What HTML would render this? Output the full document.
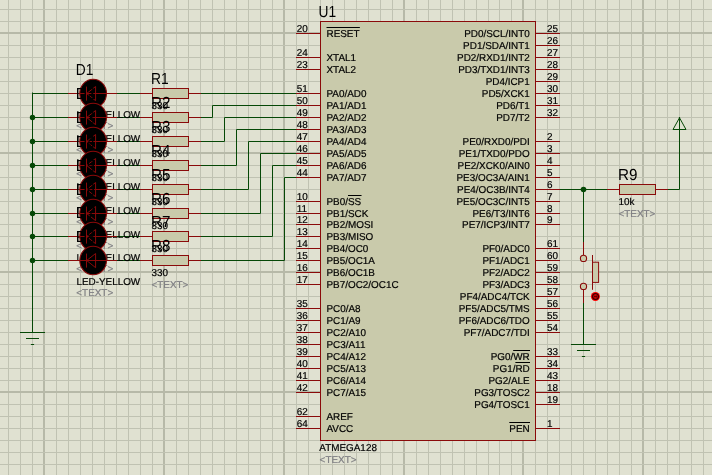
<!DOCTYPE html>
<html lang="en">
<head>
<meta charset="utf-8">
<title>ATMEGA128 LED schematic</title>
<style>
html,body{margin:0;padding:0;background:#e0e1d1;}
body{width:712px;height:475px;overflow:hidden;}
svg{display:block;will-change:transform;text-rendering:geometricPrecision;font-family:"Liberation Sans",Arial,Helvetica,sans-serif;}
</style>
</head>
<body>
<svg width="712" height="475" viewBox="0 0 712 475">
<rect x="0" y="0" width="712" height="475" fill="#e0e1d1"/>
<line x1="8.5" y1="0" x2="8.5" y2="475" stroke="#c0c2b2" stroke-width="1" stroke-linecap="square"/>
<line x1="20.5" y1="0" x2="20.5" y2="475" stroke="#c0c2b2" stroke-width="1" stroke-linecap="square"/>
<line x1="32.5" y1="0" x2="32.5" y2="475" stroke="#c0c2b2" stroke-width="1" stroke-linecap="square"/>
<line x1="44" y1="0" x2="44" y2="475" stroke="#b7b9a8" stroke-width="2" stroke-linecap="square"/>
<line x1="56.5" y1="0" x2="56.5" y2="475" stroke="#c0c2b2" stroke-width="1" stroke-linecap="square"/>
<line x1="68.5" y1="0" x2="68.5" y2="475" stroke="#c0c2b2" stroke-width="1" stroke-linecap="square"/>
<line x1="80.5" y1="0" x2="80.5" y2="475" stroke="#c0c2b2" stroke-width="1" stroke-linecap="square"/>
<line x1="92.5" y1="0" x2="92.5" y2="475" stroke="#c0c2b2" stroke-width="1" stroke-linecap="square"/>
<line x1="104.5" y1="0" x2="104.5" y2="475" stroke="#c0c2b2" stroke-width="1" stroke-linecap="square"/>
<line x1="116.5" y1="0" x2="116.5" y2="475" stroke="#c0c2b2" stroke-width="1" stroke-linecap="square"/>
<line x1="128.5" y1="0" x2="128.5" y2="475" stroke="#c0c2b2" stroke-width="1" stroke-linecap="square"/>
<line x1="140.5" y1="0" x2="140.5" y2="475" stroke="#c0c2b2" stroke-width="1" stroke-linecap="square"/>
<line x1="152.5" y1="0" x2="152.5" y2="475" stroke="#c0c2b2" stroke-width="1" stroke-linecap="square"/>
<line x1="164" y1="0" x2="164" y2="475" stroke="#b7b9a8" stroke-width="2" stroke-linecap="square"/>
<line x1="176.5" y1="0" x2="176.5" y2="475" stroke="#c0c2b2" stroke-width="1" stroke-linecap="square"/>
<line x1="188.5" y1="0" x2="188.5" y2="475" stroke="#c0c2b2" stroke-width="1" stroke-linecap="square"/>
<line x1="200.5" y1="0" x2="200.5" y2="475" stroke="#c0c2b2" stroke-width="1" stroke-linecap="square"/>
<line x1="212.5" y1="0" x2="212.5" y2="475" stroke="#c0c2b2" stroke-width="1" stroke-linecap="square"/>
<line x1="224.5" y1="0" x2="224.5" y2="475" stroke="#c0c2b2" stroke-width="1" stroke-linecap="square"/>
<line x1="236.5" y1="0" x2="236.5" y2="475" stroke="#c0c2b2" stroke-width="1" stroke-linecap="square"/>
<line x1="248.5" y1="0" x2="248.5" y2="475" stroke="#c0c2b2" stroke-width="1" stroke-linecap="square"/>
<line x1="260.5" y1="0" x2="260.5" y2="475" stroke="#c0c2b2" stroke-width="1" stroke-linecap="square"/>
<line x1="272.5" y1="0" x2="272.5" y2="475" stroke="#c0c2b2" stroke-width="1" stroke-linecap="square"/>
<line x1="284" y1="0" x2="284" y2="475" stroke="#b7b9a8" stroke-width="2" stroke-linecap="square"/>
<line x1="296.5" y1="0" x2="296.5" y2="475" stroke="#c0c2b2" stroke-width="1" stroke-linecap="square"/>
<line x1="308.5" y1="0" x2="308.5" y2="475" stroke="#c0c2b2" stroke-width="1" stroke-linecap="square"/>
<line x1="320.5" y1="0" x2="320.5" y2="475" stroke="#c0c2b2" stroke-width="1" stroke-linecap="square"/>
<line x1="332.5" y1="0" x2="332.5" y2="475" stroke="#c0c2b2" stroke-width="1" stroke-linecap="square"/>
<line x1="344.5" y1="0" x2="344.5" y2="475" stroke="#c0c2b2" stroke-width="1" stroke-linecap="square"/>
<line x1="356.5" y1="0" x2="356.5" y2="475" stroke="#c0c2b2" stroke-width="1" stroke-linecap="square"/>
<line x1="368.5" y1="0" x2="368.5" y2="475" stroke="#c0c2b2" stroke-width="1" stroke-linecap="square"/>
<line x1="380.5" y1="0" x2="380.5" y2="475" stroke="#c0c2b2" stroke-width="1" stroke-linecap="square"/>
<line x1="392.5" y1="0" x2="392.5" y2="475" stroke="#c0c2b2" stroke-width="1" stroke-linecap="square"/>
<line x1="404" y1="0" x2="404" y2="475" stroke="#b7b9a8" stroke-width="2" stroke-linecap="square"/>
<line x1="416.5" y1="0" x2="416.5" y2="475" stroke="#c0c2b2" stroke-width="1" stroke-linecap="square"/>
<line x1="428.5" y1="0" x2="428.5" y2="475" stroke="#c0c2b2" stroke-width="1" stroke-linecap="square"/>
<line x1="440.5" y1="0" x2="440.5" y2="475" stroke="#c0c2b2" stroke-width="1" stroke-linecap="square"/>
<line x1="452.5" y1="0" x2="452.5" y2="475" stroke="#c0c2b2" stroke-width="1" stroke-linecap="square"/>
<line x1="464.5" y1="0" x2="464.5" y2="475" stroke="#c0c2b2" stroke-width="1" stroke-linecap="square"/>
<line x1="476.5" y1="0" x2="476.5" y2="475" stroke="#c0c2b2" stroke-width="1" stroke-linecap="square"/>
<line x1="488.5" y1="0" x2="488.5" y2="475" stroke="#c0c2b2" stroke-width="1" stroke-linecap="square"/>
<line x1="499.5" y1="0" x2="499.5" y2="475" stroke="#c0c2b2" stroke-width="1" stroke-linecap="square"/>
<line x1="511.5" y1="0" x2="511.5" y2="475" stroke="#c0c2b2" stroke-width="1" stroke-linecap="square"/>
<line x1="523" y1="0" x2="523" y2="475" stroke="#b7b9a8" stroke-width="2" stroke-linecap="square"/>
<line x1="535.5" y1="0" x2="535.5" y2="475" stroke="#c0c2b2" stroke-width="1" stroke-linecap="square"/>
<line x1="547.5" y1="0" x2="547.5" y2="475" stroke="#c0c2b2" stroke-width="1" stroke-linecap="square"/>
<line x1="559.5" y1="0" x2="559.5" y2="475" stroke="#c0c2b2" stroke-width="1" stroke-linecap="square"/>
<line x1="571.5" y1="0" x2="571.5" y2="475" stroke="#c0c2b2" stroke-width="1" stroke-linecap="square"/>
<line x1="583.5" y1="0" x2="583.5" y2="475" stroke="#c0c2b2" stroke-width="1" stroke-linecap="square"/>
<line x1="595.5" y1="0" x2="595.5" y2="475" stroke="#c0c2b2" stroke-width="1" stroke-linecap="square"/>
<line x1="607.5" y1="0" x2="607.5" y2="475" stroke="#c0c2b2" stroke-width="1" stroke-linecap="square"/>
<line x1="619.5" y1="0" x2="619.5" y2="475" stroke="#c0c2b2" stroke-width="1" stroke-linecap="square"/>
<line x1="631.5" y1="0" x2="631.5" y2="475" stroke="#c0c2b2" stroke-width="1" stroke-linecap="square"/>
<line x1="643" y1="0" x2="643" y2="475" stroke="#b7b9a8" stroke-width="2" stroke-linecap="square"/>
<line x1="655.5" y1="0" x2="655.5" y2="475" stroke="#c0c2b2" stroke-width="1" stroke-linecap="square"/>
<line x1="667.5" y1="0" x2="667.5" y2="475" stroke="#c0c2b2" stroke-width="1" stroke-linecap="square"/>
<line x1="679.5" y1="0" x2="679.5" y2="475" stroke="#c0c2b2" stroke-width="1" stroke-linecap="square"/>
<line x1="691.5" y1="0" x2="691.5" y2="475" stroke="#c0c2b2" stroke-width="1" stroke-linecap="square"/>
<line x1="703.5" y1="0" x2="703.5" y2="475" stroke="#c0c2b2" stroke-width="1" stroke-linecap="square"/>
<line x1="0" y1="9.5" x2="712" y2="9.5" stroke="#c0c2b2" stroke-width="1" stroke-linecap="square"/>
<line x1="0" y1="21.5" x2="712" y2="21.5" stroke="#c0c2b2" stroke-width="1" stroke-linecap="square"/>
<line x1="0" y1="33" x2="712" y2="33" stroke="#b7b9a8" stroke-width="2" stroke-linecap="square"/>
<line x1="0" y1="45.5" x2="712" y2="45.5" stroke="#c0c2b2" stroke-width="1" stroke-linecap="square"/>
<line x1="0" y1="57.5" x2="712" y2="57.5" stroke="#c0c2b2" stroke-width="1" stroke-linecap="square"/>
<line x1="0" y1="69.5" x2="712" y2="69.5" stroke="#c0c2b2" stroke-width="1" stroke-linecap="square"/>
<line x1="0" y1="81.5" x2="712" y2="81.5" stroke="#c0c2b2" stroke-width="1" stroke-linecap="square"/>
<line x1="0" y1="93.5" x2="712" y2="93.5" stroke="#c0c2b2" stroke-width="1" stroke-linecap="square"/>
<line x1="0" y1="105.5" x2="712" y2="105.5" stroke="#c0c2b2" stroke-width="1" stroke-linecap="square"/>
<line x1="0" y1="117.5" x2="712" y2="117.5" stroke="#c0c2b2" stroke-width="1" stroke-linecap="square"/>
<line x1="0" y1="129.5" x2="712" y2="129.5" stroke="#c0c2b2" stroke-width="1" stroke-linecap="square"/>
<line x1="0" y1="141.5" x2="712" y2="141.5" stroke="#c0c2b2" stroke-width="1" stroke-linecap="square"/>
<line x1="0" y1="153" x2="712" y2="153" stroke="#b7b9a8" stroke-width="2" stroke-linecap="square"/>
<line x1="0" y1="165.5" x2="712" y2="165.5" stroke="#c0c2b2" stroke-width="1" stroke-linecap="square"/>
<line x1="0" y1="177.5" x2="712" y2="177.5" stroke="#c0c2b2" stroke-width="1" stroke-linecap="square"/>
<line x1="0" y1="189.5" x2="712" y2="189.5" stroke="#c0c2b2" stroke-width="1" stroke-linecap="square"/>
<line x1="0" y1="201.5" x2="712" y2="201.5" stroke="#c0c2b2" stroke-width="1" stroke-linecap="square"/>
<line x1="0" y1="213.5" x2="712" y2="213.5" stroke="#c0c2b2" stroke-width="1" stroke-linecap="square"/>
<line x1="0" y1="224.5" x2="712" y2="224.5" stroke="#c0c2b2" stroke-width="1" stroke-linecap="square"/>
<line x1="0" y1="236.5" x2="712" y2="236.5" stroke="#c0c2b2" stroke-width="1" stroke-linecap="square"/>
<line x1="0" y1="248.5" x2="712" y2="248.5" stroke="#c0c2b2" stroke-width="1" stroke-linecap="square"/>
<line x1="0" y1="260.5" x2="712" y2="260.5" stroke="#c0c2b2" stroke-width="1" stroke-linecap="square"/>
<line x1="0" y1="272" x2="712" y2="272" stroke="#b7b9a8" stroke-width="2" stroke-linecap="square"/>
<line x1="0" y1="284.5" x2="712" y2="284.5" stroke="#c0c2b2" stroke-width="1" stroke-linecap="square"/>
<line x1="0" y1="296.5" x2="712" y2="296.5" stroke="#c0c2b2" stroke-width="1" stroke-linecap="square"/>
<line x1="0" y1="308.5" x2="712" y2="308.5" stroke="#c0c2b2" stroke-width="1" stroke-linecap="square"/>
<line x1="0" y1="320.5" x2="712" y2="320.5" stroke="#c0c2b2" stroke-width="1" stroke-linecap="square"/>
<line x1="0" y1="332.5" x2="712" y2="332.5" stroke="#c0c2b2" stroke-width="1" stroke-linecap="square"/>
<line x1="0" y1="344.5" x2="712" y2="344.5" stroke="#c0c2b2" stroke-width="1" stroke-linecap="square"/>
<line x1="0" y1="356.5" x2="712" y2="356.5" stroke="#c0c2b2" stroke-width="1" stroke-linecap="square"/>
<line x1="0" y1="368.5" x2="712" y2="368.5" stroke="#c0c2b2" stroke-width="1" stroke-linecap="square"/>
<line x1="0" y1="380.5" x2="712" y2="380.5" stroke="#c0c2b2" stroke-width="1" stroke-linecap="square"/>
<line x1="0" y1="392" x2="712" y2="392" stroke="#b7b9a8" stroke-width="2" stroke-linecap="square"/>
<line x1="0" y1="404.5" x2="712" y2="404.5" stroke="#c0c2b2" stroke-width="1" stroke-linecap="square"/>
<line x1="0" y1="416.5" x2="712" y2="416.5" stroke="#c0c2b2" stroke-width="1" stroke-linecap="square"/>
<line x1="0" y1="428.5" x2="712" y2="428.5" stroke="#c0c2b2" stroke-width="1" stroke-linecap="square"/>
<line x1="0" y1="440.5" x2="712" y2="440.5" stroke="#c0c2b2" stroke-width="1" stroke-linecap="square"/>
<line x1="0" y1="452.5" x2="712" y2="452.5" stroke="#c0c2b2" stroke-width="1" stroke-linecap="square"/>
<line x1="0" y1="464.5" x2="712" y2="464.5" stroke="#c0c2b2" stroke-width="1" stroke-linecap="square"/>
<line x1="32.5" y1="93" x2="32.5" y2="332.5" stroke="#064806" stroke-width="1" stroke-linecap="square"/>
<line x1="32.5" y1="93.5" x2="68.5" y2="93.5" stroke="#064806" stroke-width="1" stroke-linecap="square"/>
<line x1="32.5" y1="117.5" x2="68.5" y2="117.5" stroke="#064806" stroke-width="1" stroke-linecap="square"/>
<circle cx="32.5" cy="117.5" r="2.7" fill="#064806"/>
<line x1="32.5" y1="141.5" x2="68.5" y2="141.5" stroke="#064806" stroke-width="1" stroke-linecap="square"/>
<circle cx="32.5" cy="141.5" r="2.7" fill="#064806"/>
<line x1="32.5" y1="165.5" x2="68.5" y2="165.5" stroke="#064806" stroke-width="1" stroke-linecap="square"/>
<circle cx="32.5" cy="165.5" r="2.7" fill="#064806"/>
<line x1="32.5" y1="189.5" x2="68.5" y2="189.5" stroke="#064806" stroke-width="1" stroke-linecap="square"/>
<circle cx="32.5" cy="189.5" r="2.7" fill="#064806"/>
<line x1="32.5" y1="213.5" x2="68.5" y2="213.5" stroke="#064806" stroke-width="1" stroke-linecap="square"/>
<circle cx="32.5" cy="213.5" r="2.7" fill="#064806"/>
<line x1="32.5" y1="236.5" x2="68.5" y2="236.5" stroke="#064806" stroke-width="1" stroke-linecap="square"/>
<circle cx="32.5" cy="236.5" r="2.7" fill="#064806"/>
<line x1="32.5" y1="260.5" x2="68.5" y2="260.5" stroke="#064806" stroke-width="1" stroke-linecap="square"/>
<circle cx="32.5" cy="260.5" r="2.7" fill="#064806"/>
<line x1="20.5" y1="332.5" x2="44.5" y2="332.5" stroke="#064806" stroke-width="1" stroke-linecap="square"/>
<line x1="26.5" y1="338.5" x2="38.5" y2="338.5" stroke="#064806" stroke-width="1" stroke-linecap="square"/>
<line x1="31.4" y1="344.5" x2="33.6" y2="344.5" stroke="#064806" stroke-width="1" stroke-linecap="square"/>
<line x1="116.5" y1="93.5" x2="140.5" y2="93.5" stroke="#064806" stroke-width="1" stroke-linecap="square"/>
<line x1="200.5" y1="93.5" x2="296.5" y2="93.5" stroke="#064806" stroke-width="1" stroke-linecap="square"/>
<line x1="116.5" y1="117.5" x2="140.5" y2="117.5" stroke="#064806" stroke-width="1" stroke-linecap="square"/>
<polyline points="200.5,117.5 212.5,117.5 212.5,105.5 296.5,105.5" fill="none" stroke="#064806" stroke-width="1" stroke-linecap="square"/>
<line x1="116.5" y1="141.5" x2="140.5" y2="141.5" stroke="#064806" stroke-width="1" stroke-linecap="square"/>
<polyline points="200.5,141.5 224.5,141.5 224.5,117.5 296.5,117.5" fill="none" stroke="#064806" stroke-width="1" stroke-linecap="square"/>
<line x1="116.5" y1="165.5" x2="140.5" y2="165.5" stroke="#064806" stroke-width="1" stroke-linecap="square"/>
<polyline points="200.5,165.5 236.5,165.5 236.5,129.5 296.5,129.5" fill="none" stroke="#064806" stroke-width="1" stroke-linecap="square"/>
<line x1="116.5" y1="189.5" x2="140.5" y2="189.5" stroke="#064806" stroke-width="1" stroke-linecap="square"/>
<polyline points="200.5,189.5 248.5,189.5 248.5,141.5 296.5,141.5" fill="none" stroke="#064806" stroke-width="1" stroke-linecap="square"/>
<line x1="116.5" y1="213.5" x2="140.5" y2="213.5" stroke="#064806" stroke-width="1" stroke-linecap="square"/>
<polyline points="200.5,213.5 260.5,213.5 260.5,153.5 296.5,153.5" fill="none" stroke="#064806" stroke-width="1" stroke-linecap="square"/>
<line x1="116.5" y1="236.5" x2="140.5" y2="236.5" stroke="#064806" stroke-width="1" stroke-linecap="square"/>
<polyline points="200.5,236.5 272.5,236.5 272.5,165.5 296.5,165.5" fill="none" stroke="#064806" stroke-width="1" stroke-linecap="square"/>
<line x1="116.5" y1="260.5" x2="140.5" y2="260.5" stroke="#064806" stroke-width="1" stroke-linecap="square"/>
<polyline points="200.5,260.5 284.5,260.5 284.5,177.5 296.5,177.5" fill="none" stroke="#064806" stroke-width="1" stroke-linecap="square"/>
<line x1="559.5" y1="189.5" x2="607.5" y2="189.5" stroke="#064806" stroke-width="1" stroke-linecap="square"/>
<line x1="583.5" y1="189.5" x2="583.5" y2="241.5" stroke="#064806" stroke-width="1" stroke-linecap="square"/>
<circle cx="583.5" cy="189.5" r="2.8" fill="#064806"/>
<line x1="296.5" y1="33.5" x2="320.5" y2="33.5" stroke="#8a0a0a" stroke-width="1" stroke-linecap="square"/>
<line x1="296.5" y1="57.5" x2="320.5" y2="57.5" stroke="#8a0a0a" stroke-width="1" stroke-linecap="square"/>
<line x1="296.5" y1="69.5" x2="320.5" y2="69.5" stroke="#8a0a0a" stroke-width="1" stroke-linecap="square"/>
<line x1="296.5" y1="93.5" x2="320.5" y2="93.5" stroke="#8a0a0a" stroke-width="1" stroke-linecap="square"/>
<line x1="296.5" y1="105.5" x2="320.5" y2="105.5" stroke="#8a0a0a" stroke-width="1" stroke-linecap="square"/>
<line x1="296.5" y1="117.5" x2="320.5" y2="117.5" stroke="#8a0a0a" stroke-width="1" stroke-linecap="square"/>
<line x1="296.5" y1="129.5" x2="320.5" y2="129.5" stroke="#8a0a0a" stroke-width="1" stroke-linecap="square"/>
<line x1="296.5" y1="141.5" x2="320.5" y2="141.5" stroke="#8a0a0a" stroke-width="1" stroke-linecap="square"/>
<line x1="296.5" y1="153.5" x2="320.5" y2="153.5" stroke="#8a0a0a" stroke-width="1" stroke-linecap="square"/>
<line x1="296.5" y1="165.5" x2="320.5" y2="165.5" stroke="#8a0a0a" stroke-width="1" stroke-linecap="square"/>
<line x1="296.5" y1="177.5" x2="320.5" y2="177.5" stroke="#8a0a0a" stroke-width="1" stroke-linecap="square"/>
<line x1="296.5" y1="201.5" x2="320.5" y2="201.5" stroke="#8a0a0a" stroke-width="1" stroke-linecap="square"/>
<line x1="296.5" y1="213.5" x2="320.5" y2="213.5" stroke="#8a0a0a" stroke-width="1" stroke-linecap="square"/>
<line x1="296.5" y1="224.5" x2="320.5" y2="224.5" stroke="#8a0a0a" stroke-width="1" stroke-linecap="square"/>
<line x1="296.5" y1="236.5" x2="320.5" y2="236.5" stroke="#8a0a0a" stroke-width="1" stroke-linecap="square"/>
<line x1="296.5" y1="248.5" x2="320.5" y2="248.5" stroke="#8a0a0a" stroke-width="1" stroke-linecap="square"/>
<line x1="296.5" y1="260.5" x2="320.5" y2="260.5" stroke="#8a0a0a" stroke-width="1" stroke-linecap="square"/>
<line x1="296.5" y1="272.5" x2="320.5" y2="272.5" stroke="#8a0a0a" stroke-width="1" stroke-linecap="square"/>
<line x1="296.5" y1="284.5" x2="320.5" y2="284.5" stroke="#8a0a0a" stroke-width="1" stroke-linecap="square"/>
<line x1="296.5" y1="308.5" x2="320.5" y2="308.5" stroke="#8a0a0a" stroke-width="1" stroke-linecap="square"/>
<line x1="296.5" y1="320.5" x2="320.5" y2="320.5" stroke="#8a0a0a" stroke-width="1" stroke-linecap="square"/>
<line x1="296.5" y1="332.5" x2="320.5" y2="332.5" stroke="#8a0a0a" stroke-width="1" stroke-linecap="square"/>
<line x1="296.5" y1="344.5" x2="320.5" y2="344.5" stroke="#8a0a0a" stroke-width="1" stroke-linecap="square"/>
<line x1="296.5" y1="356.5" x2="320.5" y2="356.5" stroke="#8a0a0a" stroke-width="1" stroke-linecap="square"/>
<line x1="296.5" y1="368.5" x2="320.5" y2="368.5" stroke="#8a0a0a" stroke-width="1" stroke-linecap="square"/>
<line x1="296.5" y1="380.5" x2="320.5" y2="380.5" stroke="#8a0a0a" stroke-width="1" stroke-linecap="square"/>
<line x1="296.5" y1="392.5" x2="320.5" y2="392.5" stroke="#8a0a0a" stroke-width="1" stroke-linecap="square"/>
<line x1="296.5" y1="416.5" x2="320.5" y2="416.5" stroke="#8a0a0a" stroke-width="1" stroke-linecap="square"/>
<line x1="296.5" y1="428.5" x2="320.5" y2="428.5" stroke="#8a0a0a" stroke-width="1" stroke-linecap="square"/>
<line x1="535.5" y1="33.5" x2="559.5" y2="33.5" stroke="#8a0a0a" stroke-width="1" stroke-linecap="square"/>
<line x1="535.5" y1="45.5" x2="559.5" y2="45.5" stroke="#8a0a0a" stroke-width="1" stroke-linecap="square"/>
<line x1="535.5" y1="57.5" x2="559.5" y2="57.5" stroke="#8a0a0a" stroke-width="1" stroke-linecap="square"/>
<line x1="535.5" y1="69.5" x2="559.5" y2="69.5" stroke="#8a0a0a" stroke-width="1" stroke-linecap="square"/>
<line x1="535.5" y1="81.5" x2="559.5" y2="81.5" stroke="#8a0a0a" stroke-width="1" stroke-linecap="square"/>
<line x1="535.5" y1="93.5" x2="559.5" y2="93.5" stroke="#8a0a0a" stroke-width="1" stroke-linecap="square"/>
<line x1="535.5" y1="105.5" x2="559.5" y2="105.5" stroke="#8a0a0a" stroke-width="1" stroke-linecap="square"/>
<line x1="535.5" y1="117.5" x2="559.5" y2="117.5" stroke="#8a0a0a" stroke-width="1" stroke-linecap="square"/>
<line x1="535.5" y1="141.5" x2="559.5" y2="141.5" stroke="#8a0a0a" stroke-width="1" stroke-linecap="square"/>
<line x1="535.5" y1="153.5" x2="559.5" y2="153.5" stroke="#8a0a0a" stroke-width="1" stroke-linecap="square"/>
<line x1="535.5" y1="165.5" x2="559.5" y2="165.5" stroke="#8a0a0a" stroke-width="1" stroke-linecap="square"/>
<line x1="535.5" y1="177.5" x2="559.5" y2="177.5" stroke="#8a0a0a" stroke-width="1" stroke-linecap="square"/>
<line x1="535.5" y1="189.5" x2="559.5" y2="189.5" stroke="#8a0a0a" stroke-width="1" stroke-linecap="square"/>
<line x1="535.5" y1="201.5" x2="559.5" y2="201.5" stroke="#8a0a0a" stroke-width="1" stroke-linecap="square"/>
<line x1="535.5" y1="213.5" x2="559.5" y2="213.5" stroke="#8a0a0a" stroke-width="1" stroke-linecap="square"/>
<line x1="535.5" y1="224.5" x2="559.5" y2="224.5" stroke="#8a0a0a" stroke-width="1" stroke-linecap="square"/>
<line x1="535.5" y1="248.5" x2="559.5" y2="248.5" stroke="#8a0a0a" stroke-width="1" stroke-linecap="square"/>
<line x1="535.5" y1="260.5" x2="559.5" y2="260.5" stroke="#8a0a0a" stroke-width="1" stroke-linecap="square"/>
<line x1="535.5" y1="272.5" x2="559.5" y2="272.5" stroke="#8a0a0a" stroke-width="1" stroke-linecap="square"/>
<line x1="535.5" y1="284.5" x2="559.5" y2="284.5" stroke="#8a0a0a" stroke-width="1" stroke-linecap="square"/>
<line x1="535.5" y1="296.5" x2="559.5" y2="296.5" stroke="#8a0a0a" stroke-width="1" stroke-linecap="square"/>
<line x1="535.5" y1="308.5" x2="559.5" y2="308.5" stroke="#8a0a0a" stroke-width="1" stroke-linecap="square"/>
<line x1="535.5" y1="320.5" x2="559.5" y2="320.5" stroke="#8a0a0a" stroke-width="1" stroke-linecap="square"/>
<line x1="535.5" y1="332.5" x2="559.5" y2="332.5" stroke="#8a0a0a" stroke-width="1" stroke-linecap="square"/>
<line x1="535.5" y1="356.5" x2="559.5" y2="356.5" stroke="#8a0a0a" stroke-width="1" stroke-linecap="square"/>
<line x1="535.5" y1="368.5" x2="559.5" y2="368.5" stroke="#8a0a0a" stroke-width="1" stroke-linecap="square"/>
<line x1="535.5" y1="380.5" x2="559.5" y2="380.5" stroke="#8a0a0a" stroke-width="1" stroke-linecap="square"/>
<line x1="535.5" y1="392.5" x2="559.5" y2="392.5" stroke="#8a0a0a" stroke-width="1" stroke-linecap="square"/>
<line x1="535.5" y1="404.5" x2="559.5" y2="404.5" stroke="#8a0a0a" stroke-width="1" stroke-linecap="square"/>
<line x1="535.5" y1="428.5" x2="559.5" y2="428.5" stroke="#8a0a0a" stroke-width="1" stroke-linecap="square"/>
<rect x="320.5" y="21.5" width="215" height="419" fill="#c9caab" stroke="#8a0a0a" stroke-width="1"/>
<text transform="translate(296.8 31.6) scale(0.99 1)" font-size="10" fill="#000000" stroke="#000000" stroke-width="0.2">20</text>
<text transform="translate(326.5 37) scale(0.99 1)" font-size="10" fill="#000000" stroke="#000000" stroke-width="0.2">RESET</text>
<line x1="327" y1="27.5" x2="359.37" y2="27.5" stroke="#000000" stroke-width="1" stroke-linecap="square"/>
<text transform="translate(296.8 55.6) scale(0.99 1)" font-size="10" fill="#000000" stroke="#000000" stroke-width="0.2">24</text>
<text transform="translate(326.5 61) scale(0.99 1)" font-size="10" fill="#000000" stroke="#000000" stroke-width="0.2">XTAL1</text>
<text transform="translate(296.8 67.6) scale(0.99 1)" font-size="10" fill="#000000" stroke="#000000" stroke-width="0.2">23</text>
<text transform="translate(326.5 73) scale(0.99 1)" font-size="10" fill="#000000" stroke="#000000" stroke-width="0.2">XTAL2</text>
<text transform="translate(296.8 91.6) scale(0.99 1)" font-size="10" fill="#000000" stroke="#000000" stroke-width="0.2">51</text>
<text transform="translate(326.5 97) scale(0.99 1)" font-size="10" fill="#000000" stroke="#000000" stroke-width="0.2">PA0/AD0</text>
<text transform="translate(296.8 103.6) scale(0.99 1)" font-size="10" fill="#000000" stroke="#000000" stroke-width="0.2">50</text>
<text transform="translate(326.5 109) scale(0.99 1)" font-size="10" fill="#000000" stroke="#000000" stroke-width="0.2">PA1/AD1</text>
<text transform="translate(296.8 115.6) scale(0.99 1)" font-size="10" fill="#000000" stroke="#000000" stroke-width="0.2">49</text>
<text transform="translate(326.5 121) scale(0.99 1)" font-size="10" fill="#000000" stroke="#000000" stroke-width="0.2">PA2/AD2</text>
<text transform="translate(296.8 127.6) scale(0.99 1)" font-size="10" fill="#000000" stroke="#000000" stroke-width="0.2">48</text>
<text transform="translate(326.5 133) scale(0.99 1)" font-size="10" fill="#000000" stroke="#000000" stroke-width="0.2">PA3/AD3</text>
<text transform="translate(296.8 139.6) scale(0.99 1)" font-size="10" fill="#000000" stroke="#000000" stroke-width="0.2">47</text>
<text transform="translate(326.5 145) scale(0.99 1)" font-size="10" fill="#000000" stroke="#000000" stroke-width="0.2">PA4/AD4</text>
<text transform="translate(296.8 151.6) scale(0.99 1)" font-size="10" fill="#000000" stroke="#000000" stroke-width="0.2">46</text>
<text transform="translate(326.5 157) scale(0.99 1)" font-size="10" fill="#000000" stroke="#000000" stroke-width="0.2">PA5/AD5</text>
<text transform="translate(296.8 163.6) scale(0.99 1)" font-size="10" fill="#000000" stroke="#000000" stroke-width="0.2">45</text>
<text transform="translate(326.5 169) scale(0.99 1)" font-size="10" fill="#000000" stroke="#000000" stroke-width="0.2">PA6/AD6</text>
<text transform="translate(296.8 175.6) scale(0.99 1)" font-size="10" fill="#000000" stroke="#000000" stroke-width="0.2">44</text>
<text transform="translate(326.5 181) scale(0.99 1)" font-size="10" fill="#000000" stroke="#000000" stroke-width="0.2">PA7/AD7</text>
<text transform="translate(296.8 199.6) scale(0.99 1)" font-size="10" fill="#000000" stroke="#000000" stroke-width="0.2">10</text>
<text transform="translate(326.5 205) scale(0.99 1)" font-size="10" fill="#000000" stroke="#000000" stroke-width="0.2">PB0/SS</text>
<line x1="348.51" y1="195.5" x2="361.04" y2="195.5" stroke="#000000" stroke-width="1" stroke-linecap="square"/>
<text transform="translate(296.8 211.6) scale(0.99 1)" font-size="10" fill="#000000" stroke="#000000" stroke-width="0.2">11</text>
<text transform="translate(326.5 217) scale(0.99 1)" font-size="10" fill="#000000" stroke="#000000" stroke-width="0.2">PB1/SCK</text>
<text transform="translate(296.8 222.6) scale(0.99 1)" font-size="10" fill="#000000" stroke="#000000" stroke-width="0.2">12</text>
<text transform="translate(326.5 228) scale(0.99 1)" font-size="10" fill="#000000" stroke="#000000" stroke-width="0.2">PB2/MOSI</text>
<text transform="translate(296.8 234.6) scale(0.99 1)" font-size="10" fill="#000000" stroke="#000000" stroke-width="0.2">13</text>
<text transform="translate(326.5 240) scale(0.99 1)" font-size="10" fill="#000000" stroke="#000000" stroke-width="0.2">PB3/MISO</text>
<text transform="translate(296.8 246.6) scale(0.99 1)" font-size="10" fill="#000000" stroke="#000000" stroke-width="0.2">14</text>
<text transform="translate(326.5 252) scale(0.99 1)" font-size="10" fill="#000000" stroke="#000000" stroke-width="0.2">PB4/OC0</text>
<text transform="translate(296.8 258.6) scale(0.99 1)" font-size="10" fill="#000000" stroke="#000000" stroke-width="0.2">15</text>
<text transform="translate(326.5 264) scale(0.99 1)" font-size="10" fill="#000000" stroke="#000000" stroke-width="0.2">PB5/OC1A</text>
<text transform="translate(296.8 270.6) scale(0.99 1)" font-size="10" fill="#000000" stroke="#000000" stroke-width="0.2">16</text>
<text transform="translate(326.5 276) scale(0.99 1)" font-size="10" fill="#000000" stroke="#000000" stroke-width="0.2">PB6/OC1B</text>
<text transform="translate(296.8 282.6) scale(0.99 1)" font-size="10" fill="#000000" stroke="#000000" stroke-width="0.2">17</text>
<text transform="translate(326.5 288) scale(0.99 1)" font-size="10" fill="#000000" stroke="#000000" stroke-width="0.2">PB7/OC2/OC1C</text>
<text transform="translate(296.8 306.6) scale(0.99 1)" font-size="10" fill="#000000" stroke="#000000" stroke-width="0.2">35</text>
<text transform="translate(326.5 312) scale(0.99 1)" font-size="10" fill="#000000" stroke="#000000" stroke-width="0.2">PC0/A8</text>
<text transform="translate(296.8 318.6) scale(0.99 1)" font-size="10" fill="#000000" stroke="#000000" stroke-width="0.2">36</text>
<text transform="translate(326.5 324) scale(0.99 1)" font-size="10" fill="#000000" stroke="#000000" stroke-width="0.2">PC1/A9</text>
<text transform="translate(296.8 330.6) scale(0.99 1)" font-size="10" fill="#000000" stroke="#000000" stroke-width="0.2">37</text>
<text transform="translate(326.5 336) scale(0.99 1)" font-size="10" fill="#000000" stroke="#000000" stroke-width="0.2">PC2/A10</text>
<text transform="translate(296.8 342.6) scale(0.99 1)" font-size="10" fill="#000000" stroke="#000000" stroke-width="0.2">38</text>
<text transform="translate(326.5 348) scale(0.99 1)" font-size="10" fill="#000000" stroke="#000000" stroke-width="0.2">PC3/A11</text>
<text transform="translate(296.8 354.6) scale(0.99 1)" font-size="10" fill="#000000" stroke="#000000" stroke-width="0.2">39</text>
<text transform="translate(326.5 360) scale(0.99 1)" font-size="10" fill="#000000" stroke="#000000" stroke-width="0.2">PC4/A12</text>
<text transform="translate(296.8 366.6) scale(0.99 1)" font-size="10" fill="#000000" stroke="#000000" stroke-width="0.2">40</text>
<text transform="translate(326.5 372) scale(0.99 1)" font-size="10" fill="#000000" stroke="#000000" stroke-width="0.2">PC5/A13</text>
<text transform="translate(296.8 378.6) scale(0.99 1)" font-size="10" fill="#000000" stroke="#000000" stroke-width="0.2">41</text>
<text transform="translate(326.5 384) scale(0.99 1)" font-size="10" fill="#000000" stroke="#000000" stroke-width="0.2">PC6/A14</text>
<text transform="translate(296.8 390.6) scale(0.99 1)" font-size="10" fill="#000000" stroke="#000000" stroke-width="0.2">42</text>
<text transform="translate(326.5 396) scale(0.99 1)" font-size="10" fill="#000000" stroke="#000000" stroke-width="0.2">PC7/A15</text>
<text transform="translate(296.8 414.6) scale(0.99 1)" font-size="10" fill="#000000" stroke="#000000" stroke-width="0.2">62</text>
<text transform="translate(326.5 420) scale(0.99 1)" font-size="10" fill="#000000" stroke="#000000" stroke-width="0.2">AREF</text>
<text transform="translate(296.8 426.6) scale(0.99 1)" font-size="10" fill="#000000" stroke="#000000" stroke-width="0.2">64</text>
<text transform="translate(326.5 432) scale(0.99 1)" font-size="10" fill="#000000" stroke="#000000" stroke-width="0.2">AVCC</text>
<text transform="translate(547 31.6) scale(0.99 1)" font-size="10" fill="#000000" stroke="#000000" stroke-width="0.2">25</text>
<text transform="translate(529.7 37) scale(0.99 1)" font-size="10" fill="#000000" stroke="#000000" stroke-width="0.2" text-anchor="end">PD0/SCL/INT0</text>
<text transform="translate(547 43.6) scale(0.99 1)" font-size="10" fill="#000000" stroke="#000000" stroke-width="0.2">26</text>
<text transform="translate(529.7 49) scale(0.99 1)" font-size="10" fill="#000000" stroke="#000000" stroke-width="0.2" text-anchor="end">PD1/SDA/INT1</text>
<text transform="translate(547 55.6) scale(0.99 1)" font-size="10" fill="#000000" stroke="#000000" stroke-width="0.2">27</text>
<text transform="translate(529.7 61) scale(0.99 1)" font-size="10" fill="#000000" stroke="#000000" stroke-width="0.2" text-anchor="end">PD2/RXD1/INT2</text>
<text transform="translate(547 67.6) scale(0.99 1)" font-size="10" fill="#000000" stroke="#000000" stroke-width="0.2">28</text>
<text transform="translate(529.7 73) scale(0.99 1)" font-size="10" fill="#000000" stroke="#000000" stroke-width="0.2" text-anchor="end">PD3/TXD1/INT3</text>
<text transform="translate(547 79.6) scale(0.99 1)" font-size="10" fill="#000000" stroke="#000000" stroke-width="0.2">29</text>
<text transform="translate(529.7 85) scale(0.99 1)" font-size="10" fill="#000000" stroke="#000000" stroke-width="0.2" text-anchor="end">PD4/ICP1</text>
<text transform="translate(547 91.6) scale(0.99 1)" font-size="10" fill="#000000" stroke="#000000" stroke-width="0.2">30</text>
<text transform="translate(529.7 97) scale(0.99 1)" font-size="10" fill="#000000" stroke="#000000" stroke-width="0.2" text-anchor="end">PD5/XCK1</text>
<text transform="translate(547 103.6) scale(0.99 1)" font-size="10" fill="#000000" stroke="#000000" stroke-width="0.2">31</text>
<text transform="translate(529.7 109) scale(0.99 1)" font-size="10" fill="#000000" stroke="#000000" stroke-width="0.2" text-anchor="end">PD6/T1</text>
<text transform="translate(547 115.6) scale(0.99 1)" font-size="10" fill="#000000" stroke="#000000" stroke-width="0.2">32</text>
<text transform="translate(529.7 121) scale(0.99 1)" font-size="10" fill="#000000" stroke="#000000" stroke-width="0.2" text-anchor="end">PD7/T2</text>
<text transform="translate(547 139.6) scale(0.99 1)" font-size="10" fill="#000000" stroke="#000000" stroke-width="0.2">2</text>
<text transform="translate(529.7 145) scale(0.99 1)" font-size="10" fill="#000000" stroke="#000000" stroke-width="0.2" text-anchor="end">PE0/RXD0/PDI</text>
<text transform="translate(547 151.6) scale(0.99 1)" font-size="10" fill="#000000" stroke="#000000" stroke-width="0.2">3</text>
<text transform="translate(529.7 157) scale(0.99 1)" font-size="10" fill="#000000" stroke="#000000" stroke-width="0.2" text-anchor="end">PE1/TXD0/PDO</text>
<text transform="translate(547 163.6) scale(0.99 1)" font-size="10" fill="#000000" stroke="#000000" stroke-width="0.2">4</text>
<text transform="translate(529.7 169) scale(0.99 1)" font-size="10" fill="#000000" stroke="#000000" stroke-width="0.2" text-anchor="end">PE2/XCK0/AIN0</text>
<text transform="translate(547 175.6) scale(0.99 1)" font-size="10" fill="#000000" stroke="#000000" stroke-width="0.2">5</text>
<text transform="translate(529.7 181) scale(0.99 1)" font-size="10" fill="#000000" stroke="#000000" stroke-width="0.2" text-anchor="end">PE3/OC3A/AIN1</text>
<text transform="translate(547 187.6) scale(0.99 1)" font-size="10" fill="#000000" stroke="#000000" stroke-width="0.2">6</text>
<text transform="translate(529.7 193) scale(0.99 1)" font-size="10" fill="#000000" stroke="#000000" stroke-width="0.2" text-anchor="end">PE4/OC3B/INT4</text>
<text transform="translate(547 199.6) scale(0.99 1)" font-size="10" fill="#000000" stroke="#000000" stroke-width="0.2">7</text>
<text transform="translate(529.7 205) scale(0.99 1)" font-size="10" fill="#000000" stroke="#000000" stroke-width="0.2" text-anchor="end">PE5/OC3C/INT5</text>
<text transform="translate(547 211.6) scale(0.99 1)" font-size="10" fill="#000000" stroke="#000000" stroke-width="0.2">8</text>
<text transform="translate(529.7 217) scale(0.99 1)" font-size="10" fill="#000000" stroke="#000000" stroke-width="0.2" text-anchor="end">PE6/T3/INT6</text>
<text transform="translate(547 222.6) scale(0.99 1)" font-size="10" fill="#000000" stroke="#000000" stroke-width="0.2">9</text>
<text transform="translate(529.7 228) scale(0.99 1)" font-size="10" fill="#000000" stroke="#000000" stroke-width="0.2" text-anchor="end">PE7/ICP3/INT7</text>
<text transform="translate(547 246.6) scale(0.99 1)" font-size="10" fill="#000000" stroke="#000000" stroke-width="0.2">61</text>
<text transform="translate(529.7 252) scale(0.99 1)" font-size="10" fill="#000000" stroke="#000000" stroke-width="0.2" text-anchor="end">PF0/ADC0</text>
<text transform="translate(547 258.6) scale(0.99 1)" font-size="10" fill="#000000" stroke="#000000" stroke-width="0.2">60</text>
<text transform="translate(529.7 264) scale(0.99 1)" font-size="10" fill="#000000" stroke="#000000" stroke-width="0.2" text-anchor="end">PF1/ADC1</text>
<text transform="translate(547 270.6) scale(0.99 1)" font-size="10" fill="#000000" stroke="#000000" stroke-width="0.2">59</text>
<text transform="translate(529.7 276) scale(0.99 1)" font-size="10" fill="#000000" stroke="#000000" stroke-width="0.2" text-anchor="end">PF2/ADC2</text>
<text transform="translate(547 282.6) scale(0.99 1)" font-size="10" fill="#000000" stroke="#000000" stroke-width="0.2">58</text>
<text transform="translate(529.7 288) scale(0.99 1)" font-size="10" fill="#000000" stroke="#000000" stroke-width="0.2" text-anchor="end">PF3/ADC3</text>
<text transform="translate(547 294.6) scale(0.99 1)" font-size="10" fill="#000000" stroke="#000000" stroke-width="0.2">57</text>
<text transform="translate(529.7 300) scale(0.99 1)" font-size="10" fill="#000000" stroke="#000000" stroke-width="0.2" text-anchor="end">PF4/ADC4/TCK</text>
<text transform="translate(547 306.6) scale(0.99 1)" font-size="10" fill="#000000" stroke="#000000" stroke-width="0.2">56</text>
<text transform="translate(529.7 312) scale(0.99 1)" font-size="10" fill="#000000" stroke="#000000" stroke-width="0.2" text-anchor="end">PF5/ADC5/TMS</text>
<text transform="translate(547 318.6) scale(0.99 1)" font-size="10" fill="#000000" stroke="#000000" stroke-width="0.2">55</text>
<text transform="translate(529.7 324) scale(0.99 1)" font-size="10" fill="#000000" stroke="#000000" stroke-width="0.2" text-anchor="end">PF6/ADC6/TDO</text>
<text transform="translate(547 330.6) scale(0.99 1)" font-size="10" fill="#000000" stroke="#000000" stroke-width="0.2">54</text>
<text transform="translate(529.7 336) scale(0.99 1)" font-size="10" fill="#000000" stroke="#000000" stroke-width="0.2" text-anchor="end">PF7/ADC7/TDI</text>
<text transform="translate(547 354.6) scale(0.99 1)" font-size="10" fill="#000000" stroke="#000000" stroke-width="0.2">33</text>
<text transform="translate(529.7 360) scale(0.99 1)" font-size="10" fill="#000000" stroke="#000000" stroke-width="0.2" text-anchor="end">PG0/WR</text>
<line x1="513.67" y1="350.5" x2="529.5" y2="350.5" stroke="#000000" stroke-width="1" stroke-linecap="square"/>
<text transform="translate(547 366.6) scale(0.99 1)" font-size="10" fill="#000000" stroke="#000000" stroke-width="0.2">34</text>
<text transform="translate(529.7 372) scale(0.99 1)" font-size="10" fill="#000000" stroke="#000000" stroke-width="0.2" text-anchor="end">PG1/RD</text>
<line x1="515.87" y1="362.5" x2="529.5" y2="362.5" stroke="#000000" stroke-width="1" stroke-linecap="square"/>
<text transform="translate(547 378.6) scale(0.99 1)" font-size="10" fill="#000000" stroke="#000000" stroke-width="0.2">43</text>
<text transform="translate(529.7 384) scale(0.99 1)" font-size="10" fill="#000000" stroke="#000000" stroke-width="0.2" text-anchor="end">PG2/ALE</text>
<text transform="translate(547 390.6) scale(0.99 1)" font-size="10" fill="#000000" stroke="#000000" stroke-width="0.2">18</text>
<text transform="translate(529.7 396) scale(0.99 1)" font-size="10" fill="#000000" stroke="#000000" stroke-width="0.2" text-anchor="end">PG3/TOSC2</text>
<text transform="translate(547 402.6) scale(0.99 1)" font-size="10" fill="#000000" stroke="#000000" stroke-width="0.2">19</text>
<text transform="translate(529.7 408) scale(0.99 1)" font-size="10" fill="#000000" stroke="#000000" stroke-width="0.2" text-anchor="end">PG4/TOSC1</text>
<text transform="translate(547 426.6) scale(0.99 1)" font-size="10" fill="#000000" stroke="#000000" stroke-width="0.2">1</text>
<text transform="translate(529.7 432) scale(0.99 1)" font-size="10" fill="#000000" stroke="#000000" stroke-width="0.2" text-anchor="end">PEN</text>
<line x1="509.8" y1="422.5" x2="529.5" y2="422.5" stroke="#000000" stroke-width="1" stroke-linecap="square"/>
<text transform="translate(318.6 17) scale(0.86 1)" font-size="16" fill="#000000" stroke="#000000" stroke-width="0">U1</text>
<text transform="translate(319.3 451.2) scale(0.99 1)" font-size="10" fill="#000000" stroke="#000000" stroke-width="0.2">ATMEGA128</text>
<text transform="translate(319.6 462.8) scale(0.99 1)" font-size="10" fill="#7e7e82" stroke="#7e7e82" stroke-width="0.2">&lt;TEXT&gt;</text>
<line x1="68.5" y1="93.5" x2="116.5" y2="93.5" stroke="#8a0a0a" stroke-width="1" stroke-linecap="square"/>
<ellipse cx="93.15" cy="93.5" rx="13.35" ry="14.25" fill="#000000" stroke="#8a0a0a" stroke-width="1.1"/>
<line x1="79.75" y1="93.5" x2="106.55" y2="93.5" stroke="#8a0a0a" stroke-width="1" stroke-linecap="square"/>
<line x1="86.5" y1="87.1" x2="86.5" y2="100.1" stroke="#8a0a0a" stroke-width="1" stroke-linecap="square"/>
<polyline points="86.7,93.5 95.6,86.5 95.6,100.7 86.7,93.5" fill="none" stroke="#8a0a0a" stroke-width="1" stroke-linecap="square"/>
<text transform="translate(75.7 75) scale(0.86 1)" font-size="16" fill="#000000" stroke="#000000" stroke-width="0">D1</text>
<text transform="translate(76.4 117.8) scale(0.99 1)" font-size="10" fill="#000000" stroke="#000000" stroke-width="0.2">LED-YELLOW</text>
<text transform="translate(76.3 129.3) scale(0.99 1)" font-size="10" fill="#7e7e82" stroke="#7e7e82" stroke-width="0.2">&lt;TEXT&gt;</text>
<line x1="68.5" y1="117.5" x2="116.5" y2="117.5" stroke="#8a0a0a" stroke-width="1" stroke-linecap="square"/>
<ellipse cx="93.15" cy="117.5" rx="13.35" ry="14.25" fill="#000000" stroke="#8a0a0a" stroke-width="1.1"/>
<line x1="79.75" y1="117.5" x2="106.55" y2="117.5" stroke="#8a0a0a" stroke-width="1" stroke-linecap="square"/>
<line x1="86.5" y1="111.1" x2="86.5" y2="124.1" stroke="#8a0a0a" stroke-width="1" stroke-linecap="square"/>
<polyline points="86.7,117.5 95.6,110.5 95.6,124.7 86.7,117.5" fill="none" stroke="#8a0a0a" stroke-width="1" stroke-linecap="square"/>
<text transform="translate(75.7 99) scale(0.95 1)" font-size="16" fill="#000000" stroke="#000000" stroke-width="0">D2</text>
<text transform="translate(76.4 141.8) scale(0.99 1)" font-size="10" fill="#000000" stroke="#000000" stroke-width="0.2">LED-YELLOW</text>
<text transform="translate(76.3 153.3) scale(0.99 1)" font-size="10" fill="#7e7e82" stroke="#7e7e82" stroke-width="0.2">&lt;TEXT&gt;</text>
<line x1="68.5" y1="141.5" x2="116.5" y2="141.5" stroke="#8a0a0a" stroke-width="1" stroke-linecap="square"/>
<ellipse cx="93.15" cy="141.5" rx="13.35" ry="14.25" fill="#000000" stroke="#8a0a0a" stroke-width="1.1"/>
<line x1="79.75" y1="141.5" x2="106.55" y2="141.5" stroke="#8a0a0a" stroke-width="1" stroke-linecap="square"/>
<line x1="86.5" y1="135.1" x2="86.5" y2="148.1" stroke="#8a0a0a" stroke-width="1" stroke-linecap="square"/>
<polyline points="86.7,141.5 95.6,134.5 95.6,148.7 86.7,141.5" fill="none" stroke="#8a0a0a" stroke-width="1" stroke-linecap="square"/>
<text transform="translate(75.7 123) scale(0.95 1)" font-size="16" fill="#000000" stroke="#000000" stroke-width="0">D3</text>
<text transform="translate(76.4 165.8) scale(0.99 1)" font-size="10" fill="#000000" stroke="#000000" stroke-width="0.2">LED-YELLOW</text>
<text transform="translate(76.3 177.3) scale(0.99 1)" font-size="10" fill="#7e7e82" stroke="#7e7e82" stroke-width="0.2">&lt;TEXT&gt;</text>
<line x1="68.5" y1="165.5" x2="116.5" y2="165.5" stroke="#8a0a0a" stroke-width="1" stroke-linecap="square"/>
<ellipse cx="93.15" cy="165.5" rx="13.35" ry="14.25" fill="#000000" stroke="#8a0a0a" stroke-width="1.1"/>
<line x1="79.75" y1="165.5" x2="106.55" y2="165.5" stroke="#8a0a0a" stroke-width="1" stroke-linecap="square"/>
<line x1="86.5" y1="159.1" x2="86.5" y2="172.1" stroke="#8a0a0a" stroke-width="1" stroke-linecap="square"/>
<polyline points="86.7,165.5 95.6,158.5 95.6,172.7 86.7,165.5" fill="none" stroke="#8a0a0a" stroke-width="1" stroke-linecap="square"/>
<text transform="translate(75.7 147) scale(0.95 1)" font-size="16" fill="#000000" stroke="#000000" stroke-width="0">D4</text>
<text transform="translate(76.4 189.8) scale(0.99 1)" font-size="10" fill="#000000" stroke="#000000" stroke-width="0.2">LED-YELLOW</text>
<text transform="translate(76.3 201.3) scale(0.99 1)" font-size="10" fill="#7e7e82" stroke="#7e7e82" stroke-width="0.2">&lt;TEXT&gt;</text>
<line x1="68.5" y1="189.5" x2="116.5" y2="189.5" stroke="#8a0a0a" stroke-width="1" stroke-linecap="square"/>
<ellipse cx="93.15" cy="189.5" rx="13.35" ry="14.25" fill="#000000" stroke="#8a0a0a" stroke-width="1.1"/>
<line x1="79.75" y1="189.5" x2="106.55" y2="189.5" stroke="#8a0a0a" stroke-width="1" stroke-linecap="square"/>
<line x1="86.5" y1="183.1" x2="86.5" y2="196.1" stroke="#8a0a0a" stroke-width="1" stroke-linecap="square"/>
<polyline points="86.7,189.5 95.6,182.5 95.6,196.7 86.7,189.5" fill="none" stroke="#8a0a0a" stroke-width="1" stroke-linecap="square"/>
<text transform="translate(75.7 171) scale(0.95 1)" font-size="16" fill="#000000" stroke="#000000" stroke-width="0">D5</text>
<text transform="translate(76.4 213.8) scale(0.99 1)" font-size="10" fill="#000000" stroke="#000000" stroke-width="0.2">LED-YELLOW</text>
<text transform="translate(76.3 225.3) scale(0.99 1)" font-size="10" fill="#7e7e82" stroke="#7e7e82" stroke-width="0.2">&lt;TEXT&gt;</text>
<line x1="68.5" y1="213.5" x2="116.5" y2="213.5" stroke="#8a0a0a" stroke-width="1" stroke-linecap="square"/>
<ellipse cx="93.15" cy="213.5" rx="13.35" ry="14.25" fill="#000000" stroke="#8a0a0a" stroke-width="1.1"/>
<line x1="79.75" y1="213.5" x2="106.55" y2="213.5" stroke="#8a0a0a" stroke-width="1" stroke-linecap="square"/>
<line x1="86.5" y1="207.1" x2="86.5" y2="220.1" stroke="#8a0a0a" stroke-width="1" stroke-linecap="square"/>
<polyline points="86.7,213.5 95.6,206.5 95.6,220.7 86.7,213.5" fill="none" stroke="#8a0a0a" stroke-width="1" stroke-linecap="square"/>
<text transform="translate(75.7 195) scale(0.95 1)" font-size="16" fill="#000000" stroke="#000000" stroke-width="0">D6</text>
<text transform="translate(76.4 237.8) scale(0.99 1)" font-size="10" fill="#000000" stroke="#000000" stroke-width="0.2">LED-YELLOW</text>
<text transform="translate(76.3 249.3) scale(0.99 1)" font-size="10" fill="#7e7e82" stroke="#7e7e82" stroke-width="0.2">&lt;TEXT&gt;</text>
<line x1="68.5" y1="236.5" x2="116.5" y2="236.5" stroke="#8a0a0a" stroke-width="1" stroke-linecap="square"/>
<ellipse cx="93.15" cy="236.5" rx="13.35" ry="14.25" fill="#000000" stroke="#8a0a0a" stroke-width="1.1"/>
<line x1="79.75" y1="236.5" x2="106.55" y2="236.5" stroke="#8a0a0a" stroke-width="1" stroke-linecap="square"/>
<line x1="86.5" y1="230.1" x2="86.5" y2="243.1" stroke="#8a0a0a" stroke-width="1" stroke-linecap="square"/>
<polyline points="86.7,236.5 95.6,229.5 95.6,243.7 86.7,236.5" fill="none" stroke="#8a0a0a" stroke-width="1" stroke-linecap="square"/>
<text transform="translate(75.7 218) scale(0.95 1)" font-size="16" fill="#000000" stroke="#000000" stroke-width="0">D7</text>
<text transform="translate(76.4 260.8) scale(0.99 1)" font-size="10" fill="#000000" stroke="#000000" stroke-width="0.2">LED-YELLOW</text>
<text transform="translate(76.3 272.3) scale(0.99 1)" font-size="10" fill="#7e7e82" stroke="#7e7e82" stroke-width="0.2">&lt;TEXT&gt;</text>
<line x1="68.5" y1="260.5" x2="116.5" y2="260.5" stroke="#8a0a0a" stroke-width="1" stroke-linecap="square"/>
<ellipse cx="93.15" cy="260.5" rx="13.35" ry="14.25" fill="#000000" stroke="#8a0a0a" stroke-width="1.1"/>
<line x1="79.75" y1="260.5" x2="106.55" y2="260.5" stroke="#8a0a0a" stroke-width="1" stroke-linecap="square"/>
<line x1="86.5" y1="254.1" x2="86.5" y2="267.1" stroke="#8a0a0a" stroke-width="1" stroke-linecap="square"/>
<polyline points="86.7,260.5 95.6,253.5 95.6,267.7 86.7,260.5" fill="none" stroke="#8a0a0a" stroke-width="1" stroke-linecap="square"/>
<text transform="translate(75.7 242) scale(0.95 1)" font-size="16" fill="#000000" stroke="#000000" stroke-width="0">D8</text>
<text transform="translate(76.4 284.8) scale(0.99 1)" font-size="10" fill="#000000" stroke="#000000" stroke-width="0.2">LED-YELLOW</text>
<text transform="translate(76.3 296.3) scale(0.99 1)" font-size="10" fill="#7e7e82" stroke="#7e7e82" stroke-width="0.2">&lt;TEXT&gt;</text>
<line x1="140.5" y1="93.5" x2="152.5" y2="93.5" stroke="#8a0a0a" stroke-width="1" stroke-linecap="square"/>
<line x1="188.5" y1="93.5" x2="200.5" y2="93.5" stroke="#8a0a0a" stroke-width="1" stroke-linecap="square"/>
<rect x="152.5" y="88.5" width="36" height="10" fill="#c9caab" stroke="#8a0a0a" stroke-width="1"/>
<text transform="translate(151 84) scale(0.86 1)" font-size="16" fill="#000000" stroke="#000000" stroke-width="0">R1</text>
<text transform="translate(151.5 108.7) scale(0.99 1)" font-size="10" fill="#000000" stroke="#000000" stroke-width="0.2">330</text>
<text transform="translate(151.5 120.7) scale(0.99 1)" font-size="10" fill="#7e7e82" stroke="#7e7e82" stroke-width="0.2">&lt;TEXT&gt;</text>
<line x1="140.5" y1="117.5" x2="152.5" y2="117.5" stroke="#8a0a0a" stroke-width="1" stroke-linecap="square"/>
<line x1="188.5" y1="117.5" x2="200.5" y2="117.5" stroke="#8a0a0a" stroke-width="1" stroke-linecap="square"/>
<rect x="152.5" y="112.5" width="36" height="10" fill="#c9caab" stroke="#8a0a0a" stroke-width="1"/>
<text transform="translate(151 108) scale(0.95 1)" font-size="16" fill="#000000" stroke="#000000" stroke-width="0">R2</text>
<text transform="translate(151.5 132.7) scale(0.99 1)" font-size="10" fill="#000000" stroke="#000000" stroke-width="0.2">330</text>
<text transform="translate(151.5 144.7) scale(0.99 1)" font-size="10" fill="#7e7e82" stroke="#7e7e82" stroke-width="0.2">&lt;TEXT&gt;</text>
<line x1="140.5" y1="141.5" x2="152.5" y2="141.5" stroke="#8a0a0a" stroke-width="1" stroke-linecap="square"/>
<line x1="188.5" y1="141.5" x2="200.5" y2="141.5" stroke="#8a0a0a" stroke-width="1" stroke-linecap="square"/>
<rect x="152.5" y="136.5" width="36" height="10" fill="#c9caab" stroke="#8a0a0a" stroke-width="1"/>
<text transform="translate(151 132) scale(0.95 1)" font-size="16" fill="#000000" stroke="#000000" stroke-width="0">R3</text>
<text transform="translate(151.5 156.7) scale(0.99 1)" font-size="10" fill="#000000" stroke="#000000" stroke-width="0.2">330</text>
<text transform="translate(151.5 168.7) scale(0.99 1)" font-size="10" fill="#7e7e82" stroke="#7e7e82" stroke-width="0.2">&lt;TEXT&gt;</text>
<line x1="140.5" y1="165.5" x2="152.5" y2="165.5" stroke="#8a0a0a" stroke-width="1" stroke-linecap="square"/>
<line x1="188.5" y1="165.5" x2="200.5" y2="165.5" stroke="#8a0a0a" stroke-width="1" stroke-linecap="square"/>
<rect x="152.5" y="160.5" width="36" height="10" fill="#c9caab" stroke="#8a0a0a" stroke-width="1"/>
<text transform="translate(151 156) scale(0.95 1)" font-size="16" fill="#000000" stroke="#000000" stroke-width="0">R4</text>
<text transform="translate(151.5 180.7) scale(0.99 1)" font-size="10" fill="#000000" stroke="#000000" stroke-width="0.2">330</text>
<text transform="translate(151.5 192.7) scale(0.99 1)" font-size="10" fill="#7e7e82" stroke="#7e7e82" stroke-width="0.2">&lt;TEXT&gt;</text>
<line x1="140.5" y1="189.5" x2="152.5" y2="189.5" stroke="#8a0a0a" stroke-width="1" stroke-linecap="square"/>
<line x1="188.5" y1="189.5" x2="200.5" y2="189.5" stroke="#8a0a0a" stroke-width="1" stroke-linecap="square"/>
<rect x="152.5" y="184.5" width="36" height="10" fill="#c9caab" stroke="#8a0a0a" stroke-width="1"/>
<text transform="translate(151 180) scale(0.95 1)" font-size="16" fill="#000000" stroke="#000000" stroke-width="0">R5</text>
<text transform="translate(151.5 204.7) scale(0.99 1)" font-size="10" fill="#000000" stroke="#000000" stroke-width="0.2">330</text>
<text transform="translate(151.5 216.7) scale(0.99 1)" font-size="10" fill="#7e7e82" stroke="#7e7e82" stroke-width="0.2">&lt;TEXT&gt;</text>
<line x1="140.5" y1="213.5" x2="152.5" y2="213.5" stroke="#8a0a0a" stroke-width="1" stroke-linecap="square"/>
<line x1="188.5" y1="213.5" x2="200.5" y2="213.5" stroke="#8a0a0a" stroke-width="1" stroke-linecap="square"/>
<rect x="152.5" y="208.5" width="36" height="10" fill="#c9caab" stroke="#8a0a0a" stroke-width="1"/>
<text transform="translate(151 204) scale(0.95 1)" font-size="16" fill="#000000" stroke="#000000" stroke-width="0">R6</text>
<text transform="translate(151.5 228.7) scale(0.99 1)" font-size="10" fill="#000000" stroke="#000000" stroke-width="0.2">330</text>
<text transform="translate(151.5 240.7) scale(0.99 1)" font-size="10" fill="#7e7e82" stroke="#7e7e82" stroke-width="0.2">&lt;TEXT&gt;</text>
<line x1="140.5" y1="236.5" x2="152.5" y2="236.5" stroke="#8a0a0a" stroke-width="1" stroke-linecap="square"/>
<line x1="188.5" y1="236.5" x2="200.5" y2="236.5" stroke="#8a0a0a" stroke-width="1" stroke-linecap="square"/>
<rect x="152.5" y="231.5" width="36" height="10" fill="#c9caab" stroke="#8a0a0a" stroke-width="1"/>
<text transform="translate(151 227) scale(0.95 1)" font-size="16" fill="#000000" stroke="#000000" stroke-width="0">R7</text>
<text transform="translate(151.5 251.7) scale(0.99 1)" font-size="10" fill="#000000" stroke="#000000" stroke-width="0.2">330</text>
<text transform="translate(151.5 263.7) scale(0.99 1)" font-size="10" fill="#7e7e82" stroke="#7e7e82" stroke-width="0.2">&lt;TEXT&gt;</text>
<line x1="140.5" y1="260.5" x2="152.5" y2="260.5" stroke="#8a0a0a" stroke-width="1" stroke-linecap="square"/>
<line x1="188.5" y1="260.5" x2="200.5" y2="260.5" stroke="#8a0a0a" stroke-width="1" stroke-linecap="square"/>
<rect x="152.5" y="255.5" width="36" height="10" fill="#c9caab" stroke="#8a0a0a" stroke-width="1"/>
<text transform="translate(151 251) scale(0.95 1)" font-size="16" fill="#000000" stroke="#000000" stroke-width="0">R8</text>
<text transform="translate(151.5 275.7) scale(0.99 1)" font-size="10" fill="#000000" stroke="#000000" stroke-width="0.2">330</text>
<text transform="translate(151.5 287.7) scale(0.99 1)" font-size="10" fill="#7e7e82" stroke="#7e7e82" stroke-width="0.2">&lt;TEXT&gt;</text>
<polyline points="667.5,189.5 679.5,189.5 679.5,117.5" fill="none" stroke="#064806" stroke-width="1" stroke-linecap="square"/>
<line x1="607.5" y1="189.5" x2="619.5" y2="189.5" stroke="#8a0a0a" stroke-width="1" stroke-linecap="square"/>
<line x1="655.5" y1="189.5" x2="667.5" y2="189.5" stroke="#8a0a0a" stroke-width="1" stroke-linecap="square"/>
<rect x="619.5" y="184.5" width="36" height="10" fill="#c9caab" stroke="#8a0a0a" stroke-width="1"/>
<text transform="translate(618 180) scale(0.95 1)" font-size="16" fill="#000000" stroke="#000000" stroke-width="0">R9</text>
<text transform="translate(618.5 204.7) scale(0.99 1)" font-size="10" fill="#000000" stroke="#000000" stroke-width="0.2">10k</text>
<text transform="translate(618.5 216.7) scale(0.99 1)" font-size="10" fill="#7e7e82" stroke="#7e7e82" stroke-width="0.2">&lt;TEXT&gt;</text>
<polyline points="679.5,117.8 673,129.5 686,129.5 679.5,117.8" fill="none" stroke="#064806" stroke-width="1" stroke-linecap="square"/>
<line x1="583.5" y1="242.5" x2="583.5" y2="255" stroke="#8a0a0a" stroke-width="1" stroke-linecap="square"/>
<circle cx="583.5" cy="258.4" r="3.1" fill="#c9caab" stroke="#8a0a0a" stroke-width="1.1"/>
<circle cx="583.5" cy="286.4" r="3.1" fill="#c9caab" stroke="#8a0a0a" stroke-width="1.1"/>
<line x1="583.5" y1="290" x2="583.5" y2="302.5" stroke="#8a0a0a" stroke-width="1" stroke-linecap="square"/>
<line x1="583.5" y1="303.5" x2="583.5" y2="344.5" stroke="#064806" stroke-width="1" stroke-linecap="square"/>
<rect x="592.5" y="262.2" width="6.1" height="20.2" fill="#c9caab" stroke="#8a0a0a" stroke-width="1"/>
<line x1="592.5" y1="255.5" x2="592.5" y2="289.3" stroke="#8a0a0a" stroke-width="1" stroke-linecap="square"/>
<circle cx="595.4" cy="296.45" r="4.5" fill="#ff0000"/>
<circle cx="595.5" cy="296.45" r="2.9" fill="none" stroke="#3a0000" stroke-width="1.3"/>
<path d="M593.9 296.5h3.4M594.9 295.3v2.4M596.4 295.3v2.4" fill="none" stroke="#5a0000" stroke-width="0.9"/>
<line x1="571.5" y1="344.5" x2="595.5" y2="344.5" stroke="#064806" stroke-width="1" stroke-linecap="square"/>
<line x1="577.5" y1="350.5" x2="589.5" y2="350.5" stroke="#064806" stroke-width="1" stroke-linecap="square"/>
<line x1="582.4" y1="356.5" x2="584.6" y2="356.5" stroke="#064806" stroke-width="1" stroke-linecap="square"/>
</svg>
</body>
</html>
